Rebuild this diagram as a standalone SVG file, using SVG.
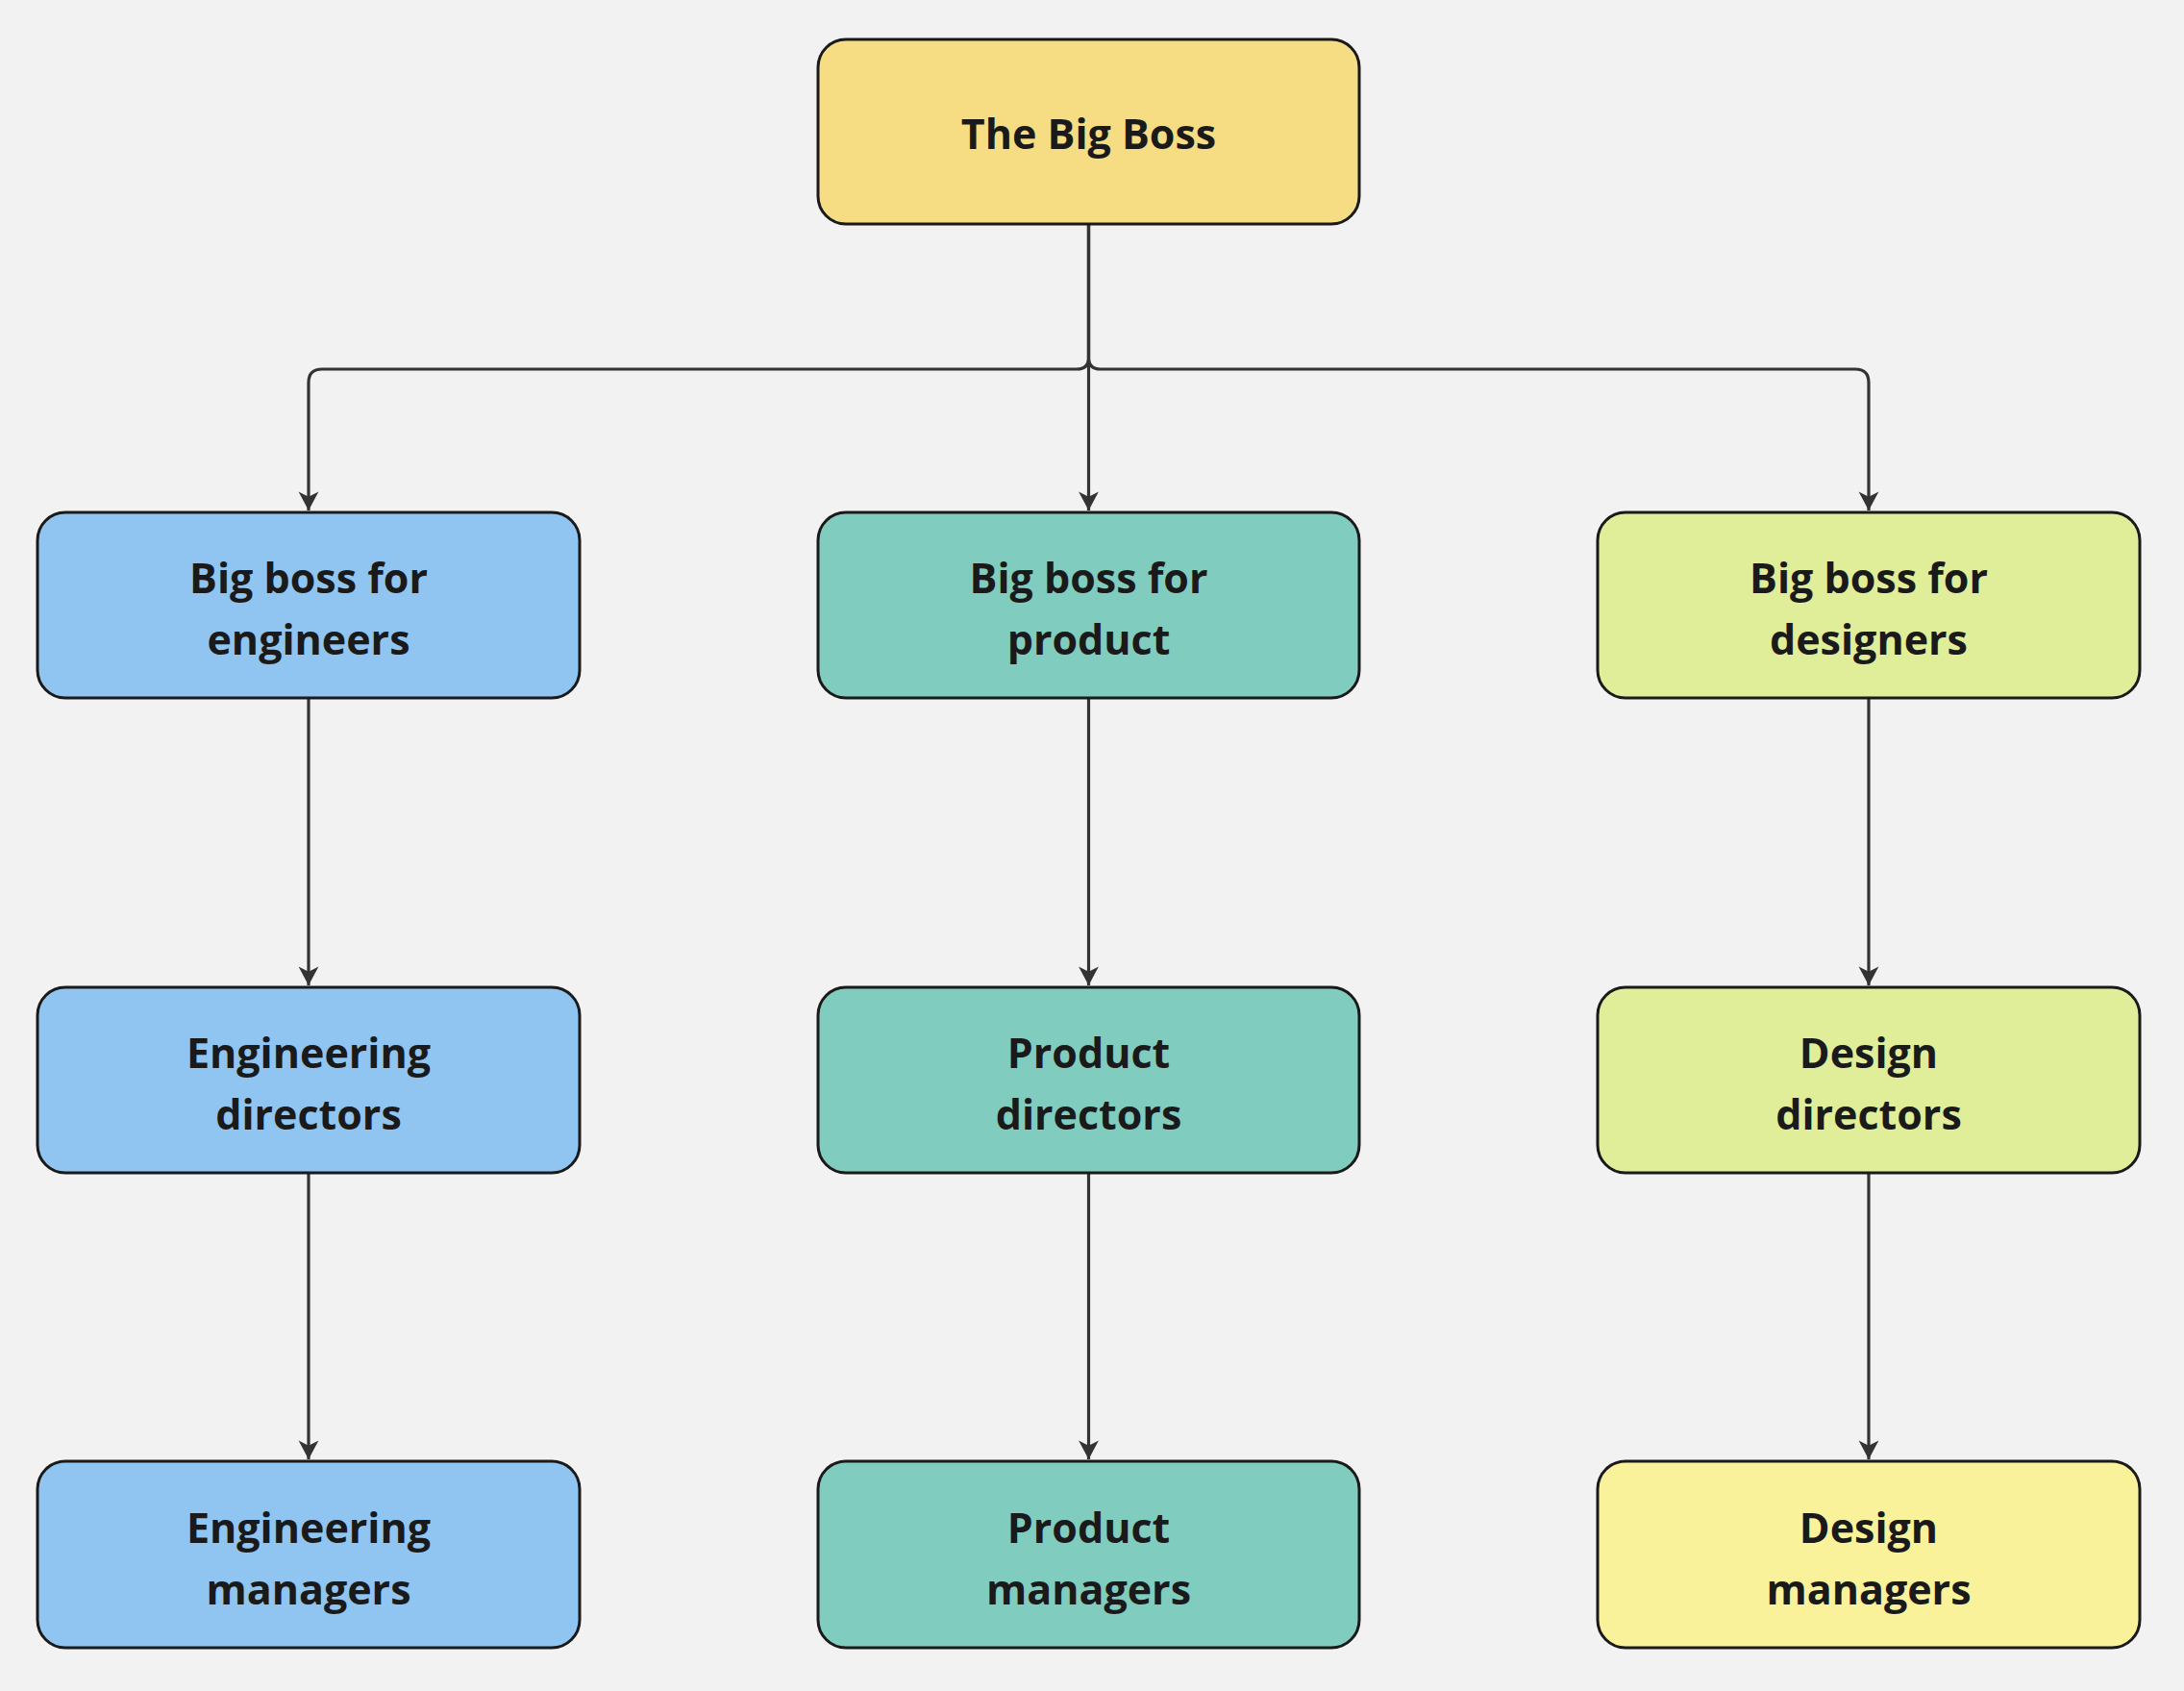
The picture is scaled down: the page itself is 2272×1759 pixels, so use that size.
<svg xmlns="http://www.w3.org/2000/svg" width="2272" height="1759" viewBox="0 0 2272 1759">
<defs>
<marker id="ah" viewBox="0 0 10 10" refX="9" refY="5" markerWidth="9" markerHeight="9" markerUnits="userSpaceOnUse" orient="auto"><path d="M1,1 L9,5 L1,9" fill="none" stroke="#333" stroke-width="1.6" transform="scale(1)"/></marker>
<marker id="a" viewBox="0 0 20 20" refX="18" refY="10" markerWidth="26" markerHeight="26" markerUnits="userSpaceOnUse" orient="auto"><path d="M3,2 L18,10 L3,18 L7,10 Z" fill="#333"/></marker>
</defs>
<style>
.n rect{stroke:#1a1a1a;stroke-width:3}
.n text{font-family:"Open Sans","Noto Sans",sans-serif;font-weight:bold;font-size:43px;fill:#1a1a1a;text-anchor:middle;dominant-baseline:central}
.c path{fill:none;stroke:#333;stroke-width:3.2}
</style>
<rect width="2272" height="1759" fill="#f2f2f2"/>
<g class="c">
<path d="M1132.5,233 V372 Q1132.5,384 1120,384 H335 Q321,384 321,398 V531" marker-end="url(#a)"/>
<path d="M1132.5,233 V372 Q1132.5,384 1145,384 H1930 Q1944,384 1944,398 V531" marker-end="url(#a)"/>
<path d="M1132.5,233 V531" marker-end="url(#a)"/>
<path d="M321,726 V1025" marker-end="url(#a)"/>
<path d="M1132.5,726 V1025" marker-end="url(#a)"/>
<path d="M1944,726 V1025" marker-end="url(#a)"/>
<path d="M321,1220 V1518" marker-end="url(#a)"/>
<path d="M1132.5,1220 V1518" marker-end="url(#a)"/>
<path d="M1944,1220 V1518" marker-end="url(#a)"/>
</g>
<g class="n" id="boss"><rect x="851" y="41" width="563" height="192" rx="29" fill="#f6dd84"/><text x="1132.5" y="138">The Big Boss</text></g>
<g class="n" id="eng"><rect x="39" y="533" width="564" height="193" rx="29" fill="#8fc5f0"/><text x="321" y="600">Big boss for</text><text x="321" y="664">engineers</text></g>
<g class="n" id="prod"><rect x="851" y="533" width="563" height="193" rx="29" fill="#80cdbf"/><text x="1132.5" y="600">Big boss for</text><text x="1132.5" y="664">product</text></g>
<g class="n" id="des"><rect x="1662" y="533" width="564" height="193" rx="29" fill="#e0ed99"/><text x="1944" y="600">Big boss for</text><text x="1944" y="664">designers</text></g>
<g class="n" id="engdir"><rect x="39" y="1027" width="564" height="193" rx="29" fill="#8fc5f0"/><text x="321" y="1094">Engineering</text><text x="321" y="1158">directors</text></g>
<g class="n" id="proddir"><rect x="851" y="1027" width="563" height="193" rx="29" fill="#80cdbf"/><text x="1132.5" y="1094">Product</text><text x="1132.5" y="1158">directors</text></g>
<g class="n" id="desdir"><rect x="1662" y="1027" width="564" height="193" rx="29" fill="#e0ed99"/><text x="1944" y="1094">Design</text><text x="1944" y="1158">directors</text></g>
<g class="n" id="engman"><rect x="39" y="1520" width="564" height="194" rx="29" fill="#8fc5f0"/><text x="321" y="1588">Engineering</text><text x="321" y="1652">managers</text></g>
<g class="n" id="prodman"><rect x="851" y="1520" width="563" height="194" rx="29" fill="#80cdbf"/><text x="1132.5" y="1588">Product</text><text x="1132.5" y="1652">managers</text></g>
<g class="n" id="desman"><rect x="1662" y="1520" width="564" height="194" rx="29" fill="#f9f29a"/><text x="1944" y="1588">Design</text><text x="1944" y="1652">managers</text></g>
</svg>
